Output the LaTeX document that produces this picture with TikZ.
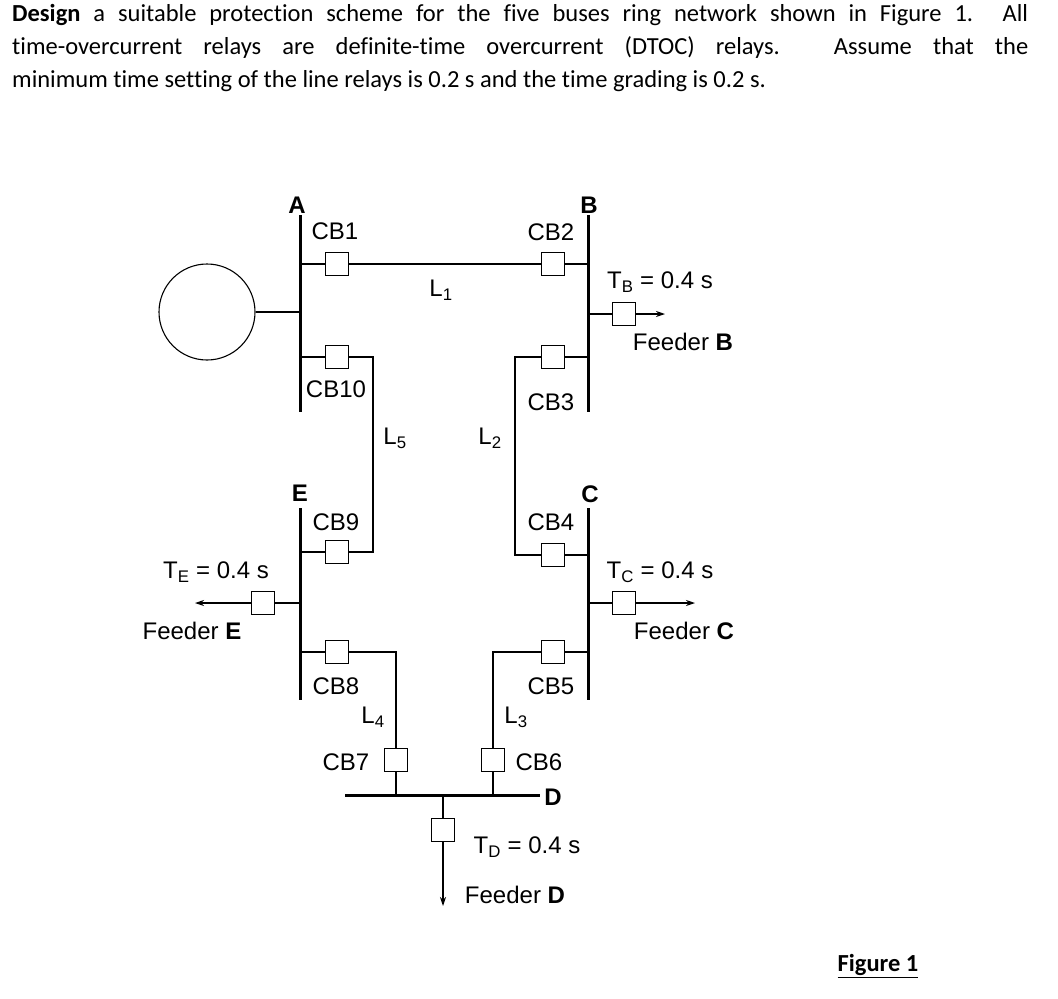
\documentclass[tikz,border=0pt]{standalone}
\usepackage{fontspec}
\setmainfont{Liberation Sans}
\newfontfamily\hdrfont[Ligatures=NoCommon]{Carlito}
\usetikzlibrary{arrows.meta}
\begin{document}
\begin{tikzpicture}[x=1pt,y=-1pt,
  cb/.style={draw,minimum width=23pt,minimum height=23pt,inner sep=0pt,fill=white,line width=1.1pt},
  ln/.style={line width=1.1pt},
  bus/.style={line width=3pt},
  lb/.style={font=\fontsize{24}{27}\selectfont,inner sep=0pt},
  bl/.style={font=\fontsize{24}{27}\selectfont\bfseries,inner sep=0pt},
  arr/.style={line width=1.1pt,-{Stealth[length=9pt,width=6pt]}}]
\useasboundingbox (0,0) rectangle (1058,999);
\node[anchor=north west,text width=1016pt,align=justify,inner sep=0pt,font=\hdrfont\fontsize{24.5}{33}\selectfont] (hdr) at (12,4)
 {\textbf{Design} a suitable protection scheme for the five buses ring network shown in Figure 1. All\linebreak time-overcurrent relays are definite-time overcurrent (DTOC) relays. Assume that the\linebreak minimum time setting of the line relays is 0.2 s and the time grading is 0.2 s.};
\node[font=\hdrfont\fontsize{24.5}{28}\selectfont\bfseries,inner sep=0pt] (fig) at (878,966) {\underline{Figure 1}};
% buses
\coordinate (At) at (300,215); \coordinate (Ab) at (300,412);
\coordinate (Bt) at (588,215); \coordinate (Bb) at (588,412);
\coordinate (Et) at (300,508); \coordinate (Eb) at (300,700);
\coordinate (Ct) at (588,508); \coordinate (Cb) at (588,700);
\coordinate (Dl) at (345,795); \coordinate (Dr) at (540,795);
\draw[bus] (At)--(Ab); \draw[bus] (Bt)--(Bb);
\draw[bus] (Et)--(Eb); \draw[bus] (Ct)--(Cb);
\draw[bus] (Dl)--(Dr);
% generator
\node[draw,circle,minimum size=96pt,line width=1.1pt] (gen) at (207,312) {};
\draw[ln] (gen.east) -- (300,312);
% CBs
\node[cb] (cb1) at (337,264) {}; \node[cb] (cb2) at (553,264) {};
\node[cb] (cb10) at (337,357) {}; \node[cb] (cb3) at (553,357) {};
\node[cb] (cb9) at (337,552) {}; \node[cb] (cb4) at (553,555) {};
\node[cb] (cb8) at (337,652) {}; \node[cb] (cb5) at (553,652) {};
\node[cb] (cb7) at (396,760) {}; \node[cb] (cb6) at (493,760) {};
\node[cb] (cbB) at (624,314) {}; \node[cb] (cbC) at (624,603) {};
\node[cb] (cbE) at (263,603) {}; \node[cb] (cbD) at (443,830) {};
% lines
\draw[ln] (300,264)--(cb1)--(cb2)--(588,264);
\draw[ln] (300,357)--(cb10.west) (cb10.east)--(373,357)--(373,552)--(cb9.east) (cb9.west)--(300,552);
\draw[ln] (588,357)--(cb3.east) (cb3.west)--(515,357)--(515,555)--(cb4.west) (cb4.east)--(588,555);
\draw[ln] (300,652)--(cb8.west) (cb8.east)--(396,652)--(cb7.north) (cb7.south)--(396,795);
\draw[ln] (588,652)--(cb5.east) (cb5.west)--(493,652)--(cb6.north) (cb6.south)--(493,795);
\coordinate (fB) at (665,314); \coordinate (fC) at (695,603);
\coordinate (fE) at (195,603); \coordinate (fD) at (443,906);
\draw[ln] (588,314)--(cbB); \draw[arr] (cbB.east)--(fB);
\draw[ln] (588,603)--(cbC); \draw[arr] (cbC.east)--(fC);
\draw[ln] (300,603)--(cbE); \draw[arr] (cbE.west)--(fE);
\draw[ln] (443,795)--(cbD); \draw[arr] (cbD.south)--(fD);
% labels
\node[bl] (lA) at (297,205) {A}; \node[bl] (lB) at (589,205) {B};
\node[bl] (lE) at (300,493) {E}; \node[bl] (lC) at (590,494) {C};
\node[bl] (lD) at (553,797) {D};
\node[lb] (t1) at (335,231) {CB1}; \node[lb] (t2) at (551,232) {CB2};
\node[lb] (t10) at (336,389) {CB10}; \node[lb] (t3) at (551,402) {CB3};
\node[lb] (t9) at (336,522) {CB9}; \node[lb] (t4) at (551,522) {CB4};
\node[lb] (t8) at (336,686) {CB8}; \node[lb] (t5) at (551,686) {CB5};
\node[lb] (t7) at (346,762) {CB7}; \node[lb] (t6) at (539,762) {CB6};
\node[lb] (L1) at (441,290) {L\textsubscript{1}}; \node[lb] (L2) at (490,438) {L\textsubscript{2}};
\node[lb] (L5) at (395,438) {L\textsubscript{5}}; \node[lb] (L4) at (373,717) {L\textsubscript{4}};
\node[lb] (L3) at (516,717) {L\textsubscript{3}};
\node[lb] (TB) at (660,282) {T\textsubscript{B} = 0.4 s};
\node[lb] (FB) at (683,342) {Feeder \textbf{B}};
\node[lb] (TC) at (660,572) {T\textsubscript{C} = 0.4 s};
\node[lb] (FC) at (684,631) {Feeder \textbf{C}};
\node[lb] (TE) at (216,572) {T\textsubscript{E} = 0.4 s};
\node[lb] (FE) at (192,631) {Feeder \textbf{E}};
\node[lb] (TD) at (527,847) {T\textsubscript{D} = 0.4 s};
\node[lb] (FD) at (515,895) {Feeder \textbf{D}};
\end{tikzpicture}
\end{document}
